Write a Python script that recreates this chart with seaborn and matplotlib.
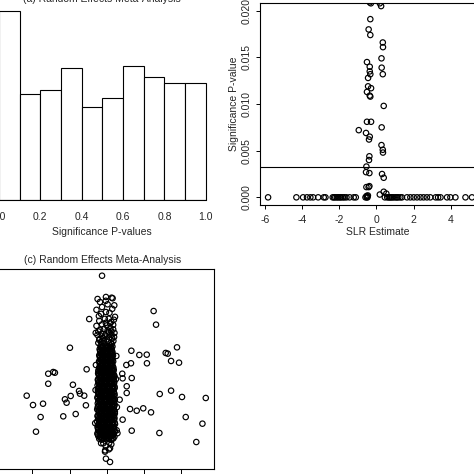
import matplotlib
matplotlib.use("Agg")
import matplotlib.pyplot as plt
import seaborn as sns

sns.set_theme(style="ticks")
plt.rcParams['font.family'] = ['Liberation Sans', 'DejaVu Sans']
plt.rcParams['axes.unicode_minus'] = False
plt.rcParams['axes.edgecolor'] = 'black'
plt.rcParams['axes.linewidth'] = 0.8

# --- (a) histogram of significance p-values, counts ---
bin_edges = [0.0, 0.1, 0.2, 0.3, 0.4, 0.5, 0.6, 0.7, 0.8, 0.9, 1.0]
bin_mids = [0.05, 0.15, 0.25, 0.35, 0.45, 0.55, 0.65, 0.75, 0.85, 0.95]
bin_counts = [100, 56, 58, 70, 49, 54, 71, 65, 62, 62]
pval_ticks = [0.0, 0.2, 0.4, 0.6, 0.8, 1.0]

# --- (b) SLR estimate vs significance p-value ---
slr_est = [
    -0.36, -0.30, 0.18, 0.25, -0.33, -0.42, -0.33, 0.34, 0.35, 0.27,
    -0.51, -0.36, -0.36, -0.33, -0.45, 0.28, 0.34, -0.45, -0.29, -0.51,
    -0.36, -0.33, 0.39, -0.51, -0.29, -0.95, -0.56, -0.36, -0.40, 0.28,
    0.27, 0.34, 0.35, -0.38, -0.40, -0.54, -0.56, -0.38, 0.30, 0.39,
    -0.54, -0.38, -0.42, 0.18, 0.39, 0.53, -0.50, -0.46, -0.53,
    -5.82, -4.30, -3.94, -3.73, -3.55, -3.40, -3.13, -2.83, -2.74, -2.35,
    -2.28, -2.21, -2.12, -2.05, -1.96, -1.90, -1.80, -1.72, -1.61, -1.44,
    -1.22, -1.11, -0.59, -0.52, -0.48, 0.45, 0.58, 0.66, 0.72, 0.78,
    0.85, 0.93, 1.03, 1.10, 1.17, 1.28, 1.37, 1.64, 1.82, 2.00,
    2.18, 2.36, 2.53, 2.71, 2.89, 3.18, 3.31, 3.44, 3.79, 3.97,
    4.24, 4.78, 5.13,
]
slr_p = [
    0.0209, 0.0208, 0.0208, 0.0205, 0.0191, 0.0180, 0.0174, 0.0166, 0.0161, 0.0149,
    0.0145, 0.0140, 0.0135, 0.0132, 0.0128, 0.0139, 0.0132, 0.0119, 0.0117, 0.0113,
    0.0109, 0.0108, 0.0098, 0.0081, 0.0081, 0.0072, 0.0069, 0.0065, 0.0062, 0.0075,
    0.0056, 0.0051, 0.0048, 0.0044, 0.0040, 0.0033, 0.0027, 0.0026, 0.0025, 0.0021,
    0.0011, 0.0012, 0.0011, 0.0003, 0.0006, 0.0004, 0.0001, 0.0002, 0.00015,
    0.0, 0.0, 0.0, 0.0, 0.0, 0.0, 0.0, 0.0, 0.0, 0.0,
    0.0, 0.0, 0.0, 0.0, 0.0, 0.0, 0.0, 0.0, 0.0, 0.0,
    0.0, 0.0, 0.0, 0.0, 0.0, 0.0, 0.0, 0.0, 0.0, 0.0,
    0.0, 0.0, 0.0, 0.0, 0.0, 0.0, 0.0, 0.0, 0.0, 0.0,
    0.0, 0.0, 0.0, 0.0, 0.0, 0.0, 0.0, 0.0, 0.0, 0.0,
    0.0, 0.0, 0.0,
]
p_cutoff = 0.0033
slr_ticks = [-6, -4, -2, 0, 2, 4]
p_ticks = [0.0, 0.005, 0.010, 0.015, 0.020]
p_labels = ['0.000', '0.005', '0.010', '0.015', '0.020']

# --- (c) random effects meta-analysis: estimate vs statistic ---
re_est = [
    # dense core, bottom to top
    -0.40, -0.27, -0.14, -0.01, 0.12, 0.25, 0.36,
    -0.45, -0.30, -0.15, 0.01, 0.15, 0.29, 0.42,
    -0.50, -0.36, -0.21, -0.07, 0.07, 0.21, 0.36,
    -0.46, -0.31, -0.16, -0.01, 0.13, 0.28, 0.43,
    -0.49, -0.34, -0.20, -0.05, 0.09, 0.24, 0.39,
    -0.43, -0.28, -0.13, 0.02, 0.16, 0.30, 0.45,
    -0.52, -0.37, -0.22, -0.08, 0.06, 0.20, 0.35,
    -0.45, -0.30, -0.16, 0.00, 0.14, 0.29, 0.42,
    -0.48, -0.33, -0.19, -0.04, 0.10, 0.25, 0.39,
    -0.42, -0.27, -0.12, 0.03, 0.17, 0.31, 0.44,
    -0.51, -0.36, -0.22, -0.07, 0.07, 0.21, 0.36,
    -0.46, -0.31, -0.15, 0.00, 0.13, 0.28, 0.41,
    -0.48, -0.34, -0.19, -0.04, 0.10, 0.24, 0.39,
    -0.41, -0.27, -0.12, 0.03, 0.17, 0.32, 0.44,
    -0.50, -0.35, -0.21, -0.07, 0.07, 0.21, 0.35,
    -0.45, -0.30, -0.15, 0.00, 0.14, 0.28, 0.42,
    -0.47, -0.33, -0.18, -0.04, 0.10, 0.24, 0.38,
    -0.42, -0.27, -0.12, 0.02, 0.16, 0.31, 0.43,
    -0.49, -0.35, -0.21, -0.07, 0.07, 0.21, 0.35,
    -0.44, -0.29, -0.15, 0.00, 0.14, 0.28, 0.41,
    -0.47, -0.32, -0.18, -0.04, 0.10, 0.24, 0.38,
    -0.41, -0.26, -0.12, 0.02, 0.16, 0.30, 0.42,
    -0.46, -0.33, -0.20, -0.06, 0.07, 0.20, 0.33,
    -0.43, -0.29, -0.15, -0.01, 0.12, 0.26, 0.38,
    -0.40, -0.27, -0.14, -0.01, 0.12, 0.25, 0.36,
    -0.37, -0.24, -0.10, 0.03, 0.16, 0.29,
    -0.41, -0.28, -0.15, -0.02, 0.11, 0.24, 0.35,
    -0.36, -0.23, -0.09, 0.04, 0.17, 0.30,
    -0.40, -0.27, -0.14, -0.01, 0.12, 0.25, 0.34,
    -0.35, -0.22, -0.08, 0.05, 0.18, 0.31,
    -0.38, -0.25, -0.12, 0.01, 0.14, 0.27,
    -0.33, -0.20, -0.06, 0.07, 0.20, 0.31,
    # looser top of the band
    -0.45, -0.30, -0.12, 0.05, 0.22, 0.36, -0.38, -0.20, 0.00, 0.15,
    0.30, -0.50, -0.28, -0.08, 0.10, 0.26, 0.42, -0.35, -0.15, 0.05,
    0.20, 0.35, -0.55, -0.25, 0.00, 0.18, -0.40, -0.10, 0.25, 0.45,
    -0.30, 0.15, -0.55, 0.30, -0.05,
    # edges and below the band
    -0.60, -0.62, -0.58, 0.50, 0.55, 0.52, -0.59, 0.58,
    -0.18, 0.14, -0.09, 0.18, -0.30, 0.25, -0.05,
    # scattered points
    -0.25, -0.49, -0.04, 0.27, 0.32, 0.41, -0.36, -0.25, 0.05, -0.04,
    -0.42, 0.11, 0.39, -0.94, 2.53, 2.66, -1.98, 1.33, 1.76, 2.16,
    2.17, 1.06, 1.31, 3.18, 3.29, 3.79, 3.47, 3.90, -1.08, -3.15,
    -2.88, -2.79, -3.15, -1.82, -1.49, -1.44, -1.21, -1.94, -2.25, -2.16,
    -4.31, -3.97, -3.43, -3.56, -3.81, -2.34, -1.67, -1.12, 0.84, 1.35,
    0.86, 1.08, 1.08, 0.70, 1.26, 1.62, 1.97, 2.39, 2.86, 3.47,
    4.06, 5.34, 4.26, 5.16, 4.83, 2.84, 1.35, 0.86, -0.04, 0.18,
    -0.08, 0.12, 0.54,
]
re_stat = [
    3.04, 2.95, 3.07, 2.98, 3.03, 2.94, 3.08,
    3.31, 3.24, 3.36, 3.28, 3.22, 3.34, 3.27,
    3.58, 3.66, 3.55, 3.63, 3.59, 3.67, 3.56,
    3.93, 3.86, 3.95, 3.88, 3.97, 3.91, 3.84,
    4.18, 4.26, 4.15, 4.23, 4.17, 4.25, 4.19,
    4.52, 4.44, 4.55, 4.47, 4.53, 4.46, 4.51,
    4.77, 4.84, 4.76, 4.85, 4.79, 4.83, 4.74,
    5.12, 5.05, 5.14, 5.07, 5.13, 5.06, 5.11,
    5.37, 5.45, 5.36, 5.43, 5.38, 5.44, 5.35,
    5.73, 5.66, 5.74, 5.65, 5.72, 5.67, 5.75,
    5.97, 6.05, 5.96, 6.04, 5.98, 6.06, 5.95,
    6.32, 6.25, 6.34, 6.27, 6.33, 6.24, 6.31,
    6.57, 6.65, 6.56, 6.64, 6.58, 6.63, 6.55,
    6.93, 6.85, 6.94, 6.86, 6.92, 6.87, 6.95,
    7.17, 7.25, 7.16, 7.24, 7.18, 7.26, 7.15,
    7.52, 7.45, 7.53, 7.46, 7.54, 7.44, 7.51,
    7.77, 7.85, 7.76, 7.84, 7.78, 7.86, 7.75,
    8.12, 8.05, 8.14, 8.06, 8.13, 8.04, 8.11,
    8.37, 8.45, 8.36, 8.44, 8.38, 8.46, 8.35,
    8.72, 8.65, 8.73, 8.66, 8.74, 8.64, 8.71,
    8.97, 9.05, 8.96, 9.04, 8.98, 9.06, 8.95,
    9.32, 9.25, 9.34, 9.26, 9.33, 9.24, 9.31,
    9.57, 9.65, 9.56, 9.64, 9.58, 9.66, 9.55,
    9.92, 9.85, 9.93, 9.86, 9.94, 9.84, 9.91,
    10.17, 10.25, 10.16, 10.24, 10.18, 10.26, 10.15,
    10.52, 10.45, 10.53, 10.46, 10.54, 10.44,
    10.77, 10.85, 10.76, 10.84, 10.78, 10.86, 10.75,
    11.12, 11.05, 11.13, 11.06, 11.14, 11.04,
    11.37, 11.45, 11.36, 11.44, 11.38, 11.46, 11.35,
    11.72, 11.65, 11.73, 11.66, 11.74, 11.64,
    11.97, 12.05, 11.96, 12.04, 11.98, 12.06,
    12.32, 12.25, 12.33, 12.26, 12.34, 12.24,
    12.60, 12.70, 12.55, 12.75, 12.60, 12.80, 13.00, 13.10, 12.95, 13.15,
    13.05, 13.40, 13.50, 13.35, 13.55, 13.40, 13.60, 13.90, 14.00, 13.85,
    14.10, 13.95, 14.30, 14.45, 14.35, 14.55, 14.80, 15.00, 14.70, 15.20,
    15.50, 15.60, 15.90, 16.00, 16.80,
    7.90, 4.60, 10.40, 9.00, 6.20, 11.30, 13.60, 3.60,
    2.59, 2.65, 1.76, 2.10, 2.60, 2.50, 2.30,
    19.30, 16.98, 17.18, 17.11, 17.05, 16.35, 16.68, 16.18, 16.45, 15.68,
    15.28, 15.01, 14.91, 14.98, 15.78, 14.42, 12.12, 11.82, 11.40, 11.43,
    10.57, 10.40, 10.57, 11.60, 11.53, 12.16, 10.80, 10.63, 9.97, 9.53,
    9.70, 9.63, 8.53, 8.43, 7.81, 7.54, 7.34, 7.31, 6.98, 6.64,
    7.34, 6.41, 6.54, 5.21, 3.75, 5.28, 5.51, 6.38, 9.53, 9.10,
    9.07, 8.28, 7.61, 6.94, 6.01, 5.84, 6.08, 5.68, 7.51, 7.84,
    7.21, 7.11, 5.21, 4.55, 2.72, 3.62, 3.85, 4.95, 1.06, 0.73,
    1.89, 1.99, 3.89,
]
# more points in the solid part of the band (they overlap heavily there)
re_est_dense = [
    -0.36, -0.23, -0.09, 0.05, 0.18, 0.31,
    -0.48, -0.34, -0.19, -0.05, 0.09, 0.23, 0.37,
    -0.41, -0.27, -0.13, 0.01, 0.15, 0.30, 0.43,
    -0.44, -0.30, -0.16, -0.02, 0.12, 0.26, 0.40,
    -0.48, -0.35, -0.20, -0.06, 0.09, 0.23, 0.37,
    -0.40, -0.26, -0.12, 0.02, 0.16, 0.31, 0.43,
    -0.45, -0.31, -0.17, -0.03, 0.11, 0.26, 0.40,
    -0.49, -0.34, -0.19, -0.05, 0.08, 0.22, 0.36,
    -0.41, -0.27, -0.14, 0.01, 0.15, 0.29, 0.44,
    -0.44, -0.30, -0.16, -0.02, 0.12, 0.27, 0.40,
    -0.48, -0.33, -0.19, -0.05, 0.09, 0.23, 0.38,
    -0.40, -0.26, -0.13, 0.02, 0.15, 0.30, 0.43,
    -0.45, -0.30, -0.16, -0.02, 0.13, 0.26, 0.40,
    -0.48, -0.34, -0.20, -0.05, 0.09, 0.24, 0.37,
    -0.41, -0.27, -0.13, 0.01, 0.15, 0.29, 0.42,
    -0.44, -0.30, -0.16, -0.03, 0.12, 0.26, 0.39,
    -0.47, -0.33, -0.19, -0.05, 0.09, 0.23, 0.37,
    -0.40, -0.26, -0.13, 0.01, 0.15, 0.29, 0.42,
    -0.44, -0.29, -0.16, -0.02, 0.12, 0.26, 0.39,
    -0.47, -0.33, -0.18, -0.05, 0.09, 0.22, 0.36,
    -0.40, -0.26, -0.12, 0.02, 0.15, 0.29, 0.41,
    -0.43, -0.29, -0.15, -0.02, 0.12, 0.25, 0.38,
    -0.45, -0.31, -0.17, -0.04, 0.09, 0.22, 0.35,
    -0.39, -0.25, -0.11, 0.03, 0.16, 0.29,
    -0.34, -0.21, -0.07, 0.06, 0.19, 0.32,
    -0.38, -0.24, -0.11, 0.02, 0.15, 0.28,
    -0.34, -0.20, -0.07, 0.07, 0.20, 0.32,
    -0.37, -0.24, -0.10, 0.03, 0.16, 0.28,
    -0.33, -0.19, -0.05, 0.08, 0.21, 0.30,
    -0.35, -0.22, -0.09, 0.04, 0.17, 0.29,
    -0.31, -0.18, -0.04, 0.09, 0.22,
    -0.40, 0.28, -0.15, 0.40, -0.45, 0.12, -0.05, 0.35, -0.25, 0.25,
]
re_stat_dense = [
    3.18, 3.10, 3.21, 3.13, 3.19, 3.09,
    3.48, 3.40, 3.51, 3.43, 3.49, 3.39, 3.46,
    3.78, 3.70, 3.81, 3.73, 3.79, 3.69, 3.76,
    4.08, 4.00, 4.11, 4.03, 4.09, 3.99, 4.06,
    4.38, 4.30, 4.41, 4.33, 4.39, 4.29, 4.36,
    4.68, 4.60, 4.71, 4.63, 4.69, 4.59, 4.66,
    4.98, 4.90, 5.01, 4.93, 4.99, 4.89, 4.96,
    5.28, 5.20, 5.31, 5.23, 5.29, 5.19, 5.26,
    5.58, 5.50, 5.61, 5.53, 5.59, 5.49, 5.56,
    5.88, 5.80, 5.91, 5.83, 5.89, 5.79, 5.86,
    6.18, 6.10, 6.21, 6.13, 6.19, 6.09, 6.16,
    6.48, 6.40, 6.51, 6.43, 6.49, 6.39, 6.46,
    6.78, 6.70, 6.81, 6.73, 6.79, 6.69, 6.76,
    7.08, 7.00, 7.11, 7.03, 7.09, 6.99, 7.06,
    7.38, 7.30, 7.41, 7.33, 7.39, 7.29, 7.36,
    7.68, 7.60, 7.71, 7.63, 7.69, 7.59, 7.66,
    7.98, 7.90, 8.01, 7.93, 7.99, 7.89, 7.96,
    8.28, 8.20, 8.31, 8.23, 8.29, 8.19, 8.26,
    8.58, 8.50, 8.61, 8.53, 8.59, 8.49, 8.56,
    8.88, 8.80, 8.91, 8.83, 8.89, 8.79, 8.86,
    9.18, 9.10, 9.21, 9.13, 9.19, 9.09, 9.16,
    9.48, 9.40, 9.51, 9.43, 9.49, 9.39, 9.46,
    9.78, 9.70, 9.81, 9.73, 9.79, 9.69, 9.76,
    10.08, 10.00, 10.11, 10.03, 10.09, 9.99,
    10.38, 10.30, 10.41, 10.33, 10.39, 10.29,
    10.68, 10.60, 10.71, 10.63, 10.69, 10.59,
    10.98, 10.90, 11.01, 10.93, 10.99, 10.89,
    11.28, 11.20, 11.31, 11.23, 11.29, 11.19,
    11.58, 11.50, 11.61, 11.53, 11.59, 11.49,
    11.88, 11.80, 11.91, 11.83, 11.89, 11.79,
    12.18, 12.10, 12.21, 12.13, 12.19,
    12.90, 12.50, 12.85, 13.20, 13.75, 13.70, 14.60, 14.40, 13.25, 13.75,
]
re_ticks = [-4, -2, 0, 2, 4]

W = 474.0
fig = plt.figure(figsize=(4.74, 4.74), dpi=100)
fig.patch.set_facecolor('white')

def box(left, top, right, bottom):
    # panel position in pixels of the 474 px canvas -> figure fraction
    return [left / W, 1 - bottom / W, (right - left) / W, (bottom - top) / W]

pt = dict(s=15, color='black', facecolor='none', edgecolor='black',
          linewidth=0.85, legend=False, clip_on=True)

# ---------- (a) ----------
ax_a = fig.add_axes(box(-9.3, 8, 214, 200))
sns.histplot(x=bin_mids, weights=bin_counts, bins=bin_edges, ax=ax_a,
             color='white', edgecolor='black', linewidth=0.8, alpha=1)
ax_a.set_xlim(-0.04, 1.04)
ax_a.set_ylim(0, 101.6)
for s in ['left', 'right', 'top']:
    ax_a.spines[s].set_visible(False)
ax_a.spines['bottom'].set_bounds(0, 1)
ax_a.set_yticks([])
ax_a.set_ylabel('')
ax_a.set_xticks(pval_ticks)
ax_a.set_xticklabels(['0.0', '0.2', '0.4', '0.6', '0.8', '1.0'])
ax_a.tick_params(axis='x', length=0, pad=9, labelsize=7.5)
ax_a.set_xlabel('Significance P-values', fontsize=7.5, labelpad=3)
ax_a.set_title('(a) Random Effects Meta-Analysis', fontsize=7.5, pad=4)

# ---------- (b) ----------
ax_b = fig.add_axes(box(259.7, 3.3, 496, 204.8))
sns.scatterplot(x=slr_est, y=slr_p, ax=ax_b, **pt)
ax_b.axhline(p_cutoff, color='black', linewidth=0.8)
ax_b.set_xlim(-6.27, 6.42)
ax_b.set_ylim(-0.0008, 0.0208)
ax_b.set_xticks(slr_ticks)
ax_b.set_xticklabels([str(t) for t in slr_ticks])
ax_b.set_yticks(p_ticks)
ax_b.set_yticklabels(p_labels, rotation=90, va='center')
ax_b.tick_params(length=3, width=0.7, pad=2.5, labelsize=7.5, color='black')
ax_b.tick_params(axis='x', pad=4)
ax_b.set_xlabel('SLR Estimate', fontsize=7.5, labelpad=2)
ax_b.set_ylabel('Significance P-value', fontsize=7.5, labelpad=2)

# ---------- (c) ----------
ax_c = fig.add_axes(box(-9.3, 268.7, 214.3, 469.3))
sns.scatterplot(x=re_est + re_est_dense, y=re_stat + re_stat_dense, ax=ax_c, **pt)
ax_c.set_xlim(-6.25, 5.80)
ax_c.set_ylim(0, 20)
ax_c.set_xticks(re_ticks)
ax_c.set_xticklabels([])
ax_c.set_yticks([])
ax_c.tick_params(axis='x', length=4, width=0.7, color='black')
ax_c.set_title('(c) Random Effects Meta-Analysis', fontsize=7.5, pad=4)

fig.savefig('out.png', dpi=100, facecolor='white')
